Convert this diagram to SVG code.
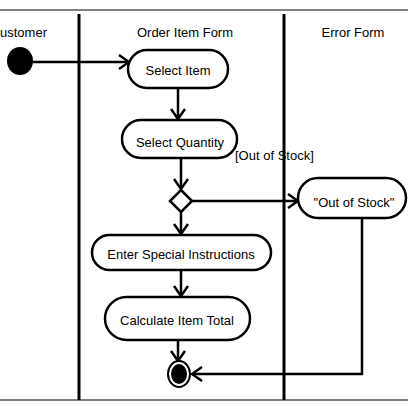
<svg xmlns="http://www.w3.org/2000/svg" width="408" height="408" viewBox="0 0 408 408">
<defs>
<style>
text{font-family:"Liberation Sans",Arial,sans-serif;font-size:13px;fill:#000}
.lbl{text-anchor:middle;dominant-baseline:central}
.pill{fill:#fff;stroke:#000;stroke-width:2.5}
.ln{fill:none;stroke:#000;stroke-width:2.5}
.lane{stroke:#000;stroke-width:3}
.bd{stroke:#000;stroke-width:1}
</style>
<marker id="arr" viewBox="0 0 12 16" refX="11" refY="8" markerWidth="12" markerHeight="16" markerUnits="userSpaceOnUse" orient="auto">
<path d="M1,1 L11,8 L1,15" fill="none" stroke="#000" stroke-width="2.5"/>
</marker>
</defs>
<rect width="408" height="408" fill="#fff"/>
<g id="frame">
<line class="bd" x1="0" y1="10" x2="408" y2="10"/>
<line class="bd" x1="0" y1="400" x2="408" y2="400"/>
<line class="lane" x1="79" y1="14" x2="79" y2="400"/>
<line class="lane" x1="284" y1="14" x2="284" y2="400"/>
<text x="0" y="37">ustomer</text>
<text x="185" y="37" text-anchor="middle">Order Item Form</text>
<text x="353" y="37" text-anchor="middle">Error Form</text>
</g>
<g id="connectors">
<line class="ln" x1="33" y1="62" x2="129" y2="62" marker-end="url(#arr)"/>
<line class="ln" x1="178" y1="88" x2="178" y2="119" marker-end="url(#arr)"/>
<line class="ln" x1="181" y1="158" x2="181" y2="189" marker-end="url(#arr)"/>
<line class="ln" x1="192" y1="201" x2="298" y2="201" marker-end="url(#arr)"/>
<line class="ln" x1="181" y1="212" x2="181" y2="234" marker-end="url(#arr)"/>
<line class="ln" x1="181" y1="270" x2="181" y2="296" marker-end="url(#arr)"/>
<line class="ln" x1="178" y1="340" x2="178" y2="361" marker-end="url(#arr)"/>
<polyline class="ln" points="362,218 362,374 192,374" marker-end="url(#arr)"/>
<text x="235" y="160">[Out of Stock]</text>
</g>
<g id="start"><ellipse cx="20" cy="61" rx="13" ry="14" fill="#000"/></g>
<g id="selectItem"><rect class="pill" x="128" y="50" width="100" height="38" rx="19"/><text class="lbl" x="178" y="70">Select Item</text></g>
<g id="selectQuantity"><rect class="pill" x="122" y="120" width="115" height="38" rx="19"/><text class="lbl" x="180" y="142">Select Quantity</text></g>
<g id="decision"><polygon points="181,190 192,201 181,212 170,201" fill="#fff" stroke="#000" stroke-width="2.5"/></g>
<g id="outOfStock"><rect class="pill" x="298" y="178" width="108" height="40" rx="20"/><text class="lbl" x="354" y="202">"Out of Stock"</text></g>
<g id="enterSpecial"><rect class="pill" x="92" y="235" width="179" height="35" rx="17.5"/><text class="lbl" x="181" y="254">Enter Special Instructions</text></g>
<g id="calcTotal"><rect class="pill" x="105" y="297" width="145" height="43" rx="21.5"/><text class="lbl" x="177" y="320">Calculate Item Total</text></g>
<g id="end"><ellipse cx="179" cy="374" rx="11" ry="13" fill="#fff" stroke="#000" stroke-width="2"/><ellipse cx="179" cy="374" rx="8" ry="10" fill="#000"/></g>
</svg>
